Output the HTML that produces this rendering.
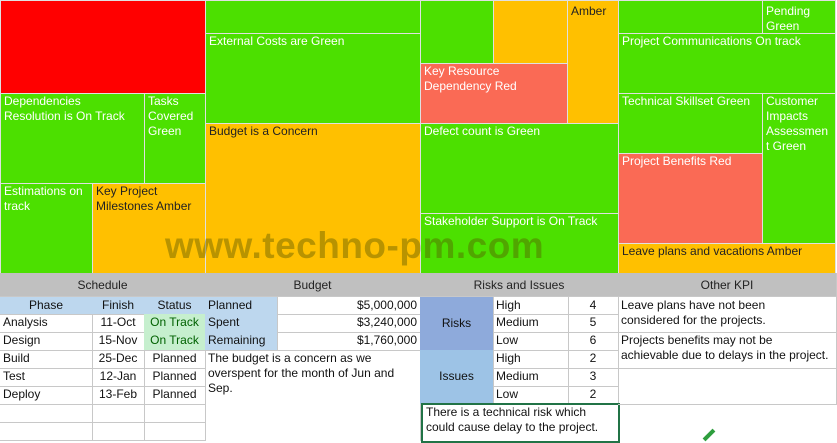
<!DOCTYPE html>
<html><head><meta charset="utf-8"><style>
body{margin:0;width:837px;height:440px;overflow:hidden;background:#fff;font-family:"Liberation Sans",sans-serif;font-size:12px;position:relative}
.c{position:absolute;box-sizing:border-box;padding:0 3px;line-height:15px;overflow:hidden}
.g{background:#4ce000;color:#fff;border:1px solid #e0e0e0}
.a{background:#ffc000;color:#222;border:1px solid #e0e0e0}
.r{background:#ff0000;border:1px solid #e0e0e0}
.s{background:#fa6a55;color:#fff;border:1px solid #e0e0e0}
.t{position:absolute;box-sizing:border-box;border-right:1px solid #c8c8c8;border-bottom:1px solid #c8c8c8;line-height:17px;padding:0 3px;white-space:nowrap;overflow:hidden;color:#111}
.h{background:#c0c0c0;text-align:center;line-height:24px;color:#222}
.lb{background:#bdd7ee}
.ok{background:#c6efce;color:#006100;text-align:center}
.ctr{text-align:center}
.rt{text-align:right}
#wm{position:absolute;left:165px;top:225px;font:bold 37px "Liberation Sans",sans-serif;color:rgba(85,85,0,0.42);letter-spacing:0.5px;white-space:nowrap}
</style></head><body>
<div>
<div class="c r" style="left:0;top:0;width:206px;height:94px"></div>
<div class="c g" style="left:0;top:93px;width:145px;height:91px">Dependencies<br>Resolution is On Track</div>
<div class="c g" style="left:144px;top:93px;width:62px;height:91px">Tasks Covered Green</div>
<div class="c g" style="left:0;top:183px;width:93px;height:91px">Estimations on track</div>
<div class="c a" style="left:92px;top:183px;width:114px;height:91px">Key Project Milestones Amber</div>
<div class="c g" style="left:205px;top:0;width:216px;height:34px"></div>
<div class="c g" style="left:205px;top:33px;width:216px;height:91px">External Costs are Green</div>
<div class="c a" style="left:205px;top:123px;width:216px;height:151px">Budget is a Concern</div>
<div class="c g" style="left:420px;top:0;width:74px;height:64px"></div>
<div class="c a" style="left:493px;top:0;width:75px;height:64px"></div>
<div class="c a" style="left:567px;top:0;width:52px;height:124px;padding-top:3px">Amber</div>
<div class="c s" style="left:420px;top:63px;width:148px;height:61px">Key Resource Dependency Red</div>
<div class="c g" style="left:420px;top:123px;width:199px;height:91px">Defect count is Green</div>
<div class="c g" style="left:420px;top:213px;width:199px;height:61px">Stakeholder Support is On Track</div>
<div class="c g" style="left:618px;top:0;width:145px;height:34px"></div>
<div class="c g" style="left:762px;top:0;width:74px;height:34px;padding-top:3px">Pending Green</div>
<div class="c g" style="left:618px;top:33px;width:218px;height:61px">Project Communications On track</div>
<div class="c g" style="left:618px;top:93px;width:145px;height:61px">Technical Skillset Green</div>
<div class="c s" style="left:618px;top:153px;width:145px;height:91px">Project Benefits Red</div>
<div class="c g" style="left:762px;top:93px;width:74px;height:151px">Customer Impacts Assessmen t Green</div>
<div class="c a" style="left:618px;top:243px;width:218px;height:31px">Leave plans and vacations Amber</div>
</div>
<div id="wm">www.techno-pm.com</div>

<div class="t h" style="left:0;top:273px;width:206px;height:24px">Schedule</div>
<div class="t h" style="left:205px;top:273px;width:216px;height:24px">Budget</div>
<div class="t h" style="left:420px;top:273px;width:199px;height:24px">Risks and Issues</div>
<div class="t h" style="left:618px;top:273px;width:219px;height:24px">Other KPI</div>

<div>
<div class="t lb ctr" style="left:0;top:297px;width:93px;height:18px">Phase</div>
<div class="t lb ctr" style="left:92px;top:297px;width:53px;height:18px">Finish</div>
<div class="t lb ctr" style="left:144px;top:297px;width:62px;height:18px">Status</div>
<div class="t" style="left:0;top:314px;width:93px;height:19px">Analysis</div>
<div class="t ctr" style="left:92px;top:314px;width:53px;height:19px">11-Oct</div>
<div class="t ok" style="left:144px;top:314px;width:62px;height:19px">On Track</div>
<div class="t" style="left:0;top:332px;width:93px;height:19px">Design</div>
<div class="t ctr" style="left:92px;top:332px;width:53px;height:19px">15-Nov</div>
<div class="t ok" style="left:144px;top:332px;width:62px;height:19px">On Track</div>
<div class="t" style="left:0;top:350px;width:93px;height:19px">Build</div>
<div class="t ctr" style="left:92px;top:350px;width:53px;height:19px">25-Dec</div>
<div class="t ctr" style="left:144px;top:350px;width:62px;height:19px">Planned</div>
<div class="t" style="left:0;top:368px;width:93px;height:19px">Test</div>
<div class="t ctr" style="left:92px;top:368px;width:53px;height:19px">12-Jan</div>
<div class="t ctr" style="left:144px;top:368px;width:62px;height:19px">Planned</div>
<div class="t" style="left:0;top:386px;width:93px;height:19px">Deploy</div>
<div class="t ctr" style="left:92px;top:386px;width:53px;height:19px">13-Feb</div>
<div class="t ctr" style="left:144px;top:386px;width:62px;height:19px">Planned</div>
<div class="t" style="left:0;top:404px;width:93px;height:19px"></div>
<div class="t" style="left:92px;top:404px;width:53px;height:19px"></div>
<div class="t" style="left:144px;top:404px;width:62px;height:19px"></div>
<div class="t" style="left:0;top:422px;width:93px;height:19px"></div>
<div class="t" style="left:92px;top:422px;width:53px;height:19px"></div>
<div class="t" style="left:144px;top:422px;width:62px;height:19px"></div>
</div>

<div>
<div class="t lb" style="left:205px;top:297px;width:73px;height:18px">Planned</div>
<div class="t rt" style="left:277px;top:297px;width:144px;height:18px">$5,000,000</div>
<div class="t lb" style="left:205px;top:314px;width:73px;height:19px">Spent</div>
<div class="t rt" style="left:277px;top:314px;width:144px;height:19px">$3,240,000</div>
<div class="t lb" style="left:205px;top:332px;width:73px;height:19px">Remaining</div>
<div class="t rt" style="left:277px;top:332px;width:144px;height:19px">$1,760,000</div>
<div class="t" style="left:205px;top:350px;width:216px;height:91px;white-space:normal;line-height:15px;padding-top:1px;border-bottom:none">The budget is a concern as we overspent for the month of Jun and Sep.</div>
</div>

<div>
<div class="t ctr" style="left:420px;top:297px;width:74px;height:54px;background:#8eaadb;line-height:52px">Risks</div>
<div class="t ctr" style="left:420px;top:350px;width:74px;height:55px;background:#9dc3e6;line-height:53px">Issues</div>
<div class="t" style="left:493px;top:297px;width:76px;height:18px">High</div>
<div class="t ctr" style="left:568px;top:297px;width:51px;height:18px">4</div>
<div class="t" style="left:493px;top:314px;width:76px;height:19px">Medium</div>
<div class="t ctr" style="left:568px;top:314px;width:51px;height:19px">5</div>
<div class="t" style="left:493px;top:332px;width:76px;height:19px">Low</div>
<div class="t ctr" style="left:568px;top:332px;width:51px;height:19px">6</div>
<div class="t" style="left:493px;top:350px;width:76px;height:19px">High</div>
<div class="t ctr" style="left:568px;top:350px;width:51px;height:19px">2</div>
<div class="t" style="left:493px;top:368px;width:76px;height:19px">Medium</div>
<div class="t ctr" style="left:568px;top:368px;width:51px;height:19px">3</div>
<div class="t" style="left:493px;top:386px;width:76px;height:19px">Low</div>
<div class="t ctr" style="left:568px;top:386px;width:51px;height:19px">2</div>
<div style="position:absolute;left:421px;top:403px;width:199px;height:40px;box-sizing:border-box;border:2px solid #217346;padding:0 3px;line-height:15px;color:#111">There is a technical risk which could cause delay to the project.</div>
</div>

<div>
<div class="t" style="left:618px;top:297px;width:219px;height:36px;white-space:normal;line-height:15px;padding-top:1px">Leave plans have not been<br>considered for the projects.</div>
<div class="t" style="left:618px;top:332px;width:219px;height:37px;white-space:normal;line-height:15px;padding-top:1px">Projects benefits may not be achievable due to delays in the project.</div>
<div class="t" style="left:618px;top:368px;width:219px;height:37px"></div>
<div style="position:absolute;left:707px;top:428px;width:4px;height:14px;background:#2e9e3e;transform:rotate(45deg)"></div>
</div>
</body></html>
